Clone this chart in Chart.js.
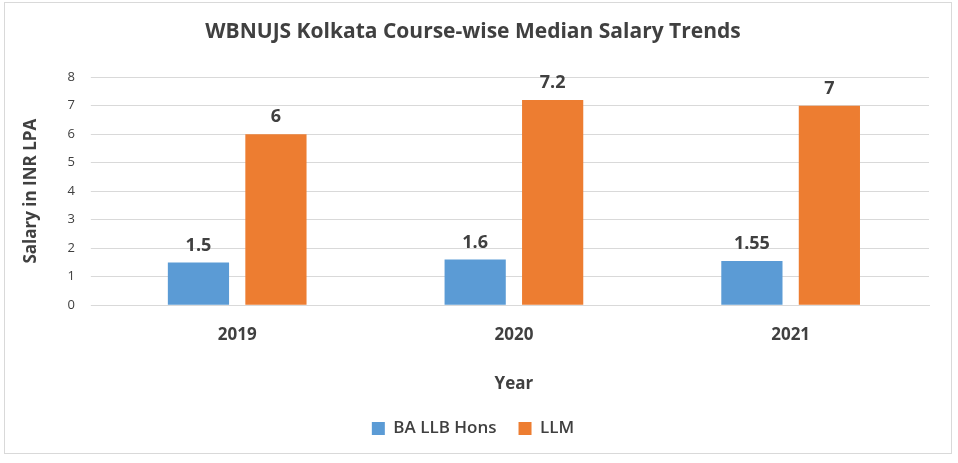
<!DOCTYPE html>
<html>
<head>
<meta charset="utf-8">
<script src="https://cdn.jsdelivr.net/npm/chart.js@4"></script>
<style>
  html, body { margin: 0; padding: 0; background: #fff; }
  #wrap { position: absolute; left: 4px; top: 2px; width: 948px; height: 452px; border: 1px solid #d9d9d9; box-sizing: border-box; }
</style>
</head>
<body>
<div id="wrap"><canvas id="c"></canvas></div>
<script>
const years = ['2019', '2020', '2021'];
const baLlb = [1.5, 1.6, 1.55];
const llm   = [6, 7.2, 7];
const yTicks = [0, 1, 2, 3, 4, 5, 6, 7, 8];

const FONT = "'Open Sans', sans-serif";
const TXT  = '#404040';

// Etiquetas de valor encima de cada barra
const valueLabels = {
  id: 'valueLabels',
  afterDatasetsDraw(chart) {
    const ctx = chart.ctx;
    ctx.save();
    ctx.font = `bold 18px ${FONT}`;
    ctx.fillStyle = TXT;
    ctx.textAlign = 'center';
    ctx.textBaseline = 'bottom';
    chart.data.datasets.forEach((ds, i) => {
      chart.getDatasetMeta(i).data.forEach((bar, j) => {
        ctx.fillText(String(ds.data[j]), bar.x, bar.y - 8);
      });
    });
    ctx.restore();
  },
};

new Chart(document.getElementById('c'), {
  type: 'bar',
  data: {
    labels: years,
    datasets: [
      { label: 'BA LLB Hons', data: baLlb, backgroundColor: '#5b9bd5' },
      { label: 'LLM',         data: llm,   backgroundColor: '#ed7d31' },
    ],
  },
  options: {
    responsive: true,
    maintainAspectRatio: false,
    animation: false,
    layout: { padding: { left: 12, right: 22, top: 8, bottom: 6 } },
    datasets: { bar: { categoryPercentage: 0.56, barPercentage: 0.79 } },
    plugins: {
      title: {
        display: true,
        text: 'WBNUJS Kolkata Course-wise Median Salary Trends',
        color: TXT,
        font: { family: FONT, size: 21, weight: 'bold' },
        padding: { top: 8, bottom: 33 },
      },
      legend: {
        position: 'bottom',
        labels: { color: TXT, font: { family: FONT, size: 17, weight: '600' }, boxWidth: 13, boxHeight: 13, padding: 22 },
      },
      tooltip: { enabled: false },
    },
    scales: {
      x: {
        grid: { display: false },
        border: { color: '#d9d9d9' },
        ticks: { color: TXT, font: { family: FONT, size: 17, weight: 'bold' }, padding: 12 },
        title: { display: true, text: 'Year', color: TXT, font: { family: FONT, size: 17, weight: 'bold' }, padding: { top: 16 } },
      },
      y: {
        min: 0, max: 8,
        afterBuildTicks: axis => { axis.ticks = yTicks.map(v => ({ value: v })); },
        grid: { color: '#d9d9d9' },
        border: { display: false },
        ticks: { color: TXT, font: { family: FONT, size: 13 }, padding: 16 },
        title: { display: true, text: 'Salary in INR LPA', color: TXT, font: { family: FONT, size: 17, weight: 'bold' }, padding: { bottom: 10 } },
      },
    },
  },
  plugins: [valueLabels],
});
</script>
</body>
</html>
